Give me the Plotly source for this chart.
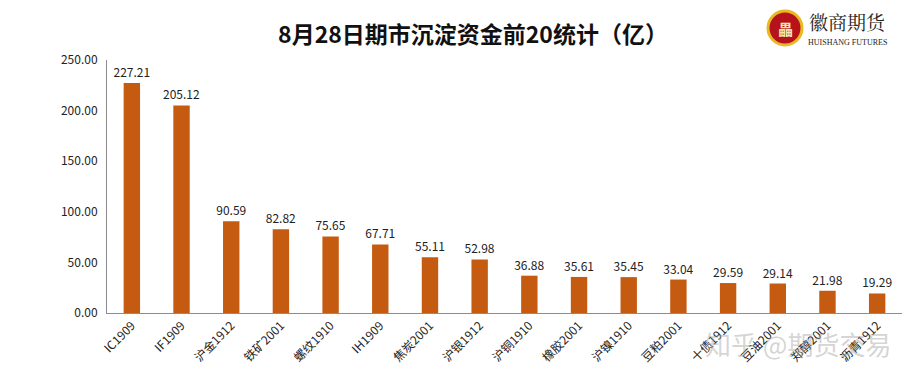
import plotly.graph_objects as go

categories = ["IC1909", "IF1909", "沪金1912", "铁矿2001", "螺纹1910", "IH1909", "焦炭2001", "沪银1912",
              "沪铜1910", "橡胶2001", "沪镍1910", "豆粕2001", "十债1912", "豆油2001", "郑醇2001", "沥青1912"]
values = [227.21, 205.12, 90.59, 82.82, 75.65, 67.71, 55.11, 52.98,
          36.88, 35.61, 35.45, 33.04, 29.59, 29.14, 21.98, 19.29]
y_ticks = [0, 50, 100, 150, 200, 250]

# page has an 8px body offset; figure sized to fit in the window
OFF = 8
W, H = 908, 374
L, R, T, B = 99, 14, 52, 69
PW, PH = W - L - R, H - T - B


def px(sx):
    return (sx - OFF - L) / PW


def py(sy):
    return (H - B - (sy - OFF)) / PH


fig = go.Figure()
fig.add_trace(go.Bar(
    x=categories, y=values,
    marker=dict(color="#C55A11", line=dict(width=0)),
    width=0.33,
    text=[f"{v:.2f}" for v in values],
    textposition="outside",
    constraintext="none",
    textfont=dict(size=12, color="#222222", family="Noto Sans CJK SC, sans-serif"),
    cliponaxis=False,
))

fig.update_layout(
    width=W, height=H,
    margin=dict(l=L, r=R, t=T, b=B, autoexpand=False),
    paper_bgcolor="white", plot_bgcolor="white",
    showlegend=False,
    font=dict(family="Noto Sans CJK SC, sans-serif", size=12, color="#222222"),
    title=dict(text="<b>8月28日期市沉淀资金前20统计（亿）</b>",
               x=(473 - OFF) / W, xanchor="center", y=1 - (35 - OFF) / H, yanchor="middle",
               font=dict(size=23, color="#111111", family="Noto Sans CJK SC, sans-serif")),
    xaxis=dict(showline=True, linecolor="#8c8c8c", linewidth=1, ticks="",
               tickangle=-45, tickfont=dict(size=12, color="#222222"),
               showgrid=False, automargin=False),
    yaxis=dict(range=[0, 250], tickvals=y_ticks, tickformat=".2f",
               showline=True, linecolor="#8c8c8c", linewidth=1, ticks="",
               showgrid=False, zeroline=False, tickfont=dict(size=12, color="#222222"),
               ticklabelstandoff=6, automargin=False),
    bargap=0.67,
)

# logo
fig.add_shape(type="circle", xref="paper", yref="paper",
              x0=px(768), x1=px(802), y0=py(45), y1=py(11),
              line=dict(color="#E8B923", width=3), fillcolor="#B5121B")
fig.add_annotation(text="<b>畾</b>", xref="paper", yref="paper", x=px(785), y=py(28),
                   xanchor="center", yanchor="middle", showarrow=False,
                   font=dict(size=15, color="#F5E6B0"))
fig.add_annotation(text="徽商期货", xref="paper", yref="paper", x=px(807), y=py(22),
                   xanchor="left", yanchor="middle", showarrow=False,
                   font=dict(size=19, color="#222222", family="Noto Serif CJK SC, Noto Sans CJK SC, serif"))
fig.add_annotation(text="HUISHANG FUTURES", xref="paper", yref="paper", x=px(806), y=py(43),
                   xanchor="left", yanchor="middle", showarrow=False,
                   font=dict(size=8, color="#222222", family="Liberation Serif, serif"))

# watermark
fig.add_annotation(text="知乎 @期货交易", xref="paper", yref="paper", x=px(798), y=py(343),
                   xanchor="center", yanchor="middle", showarrow=False,
                   font=dict(size=26, color="rgba(160,160,160,0.45)"))

fig.write_html("out.html")
